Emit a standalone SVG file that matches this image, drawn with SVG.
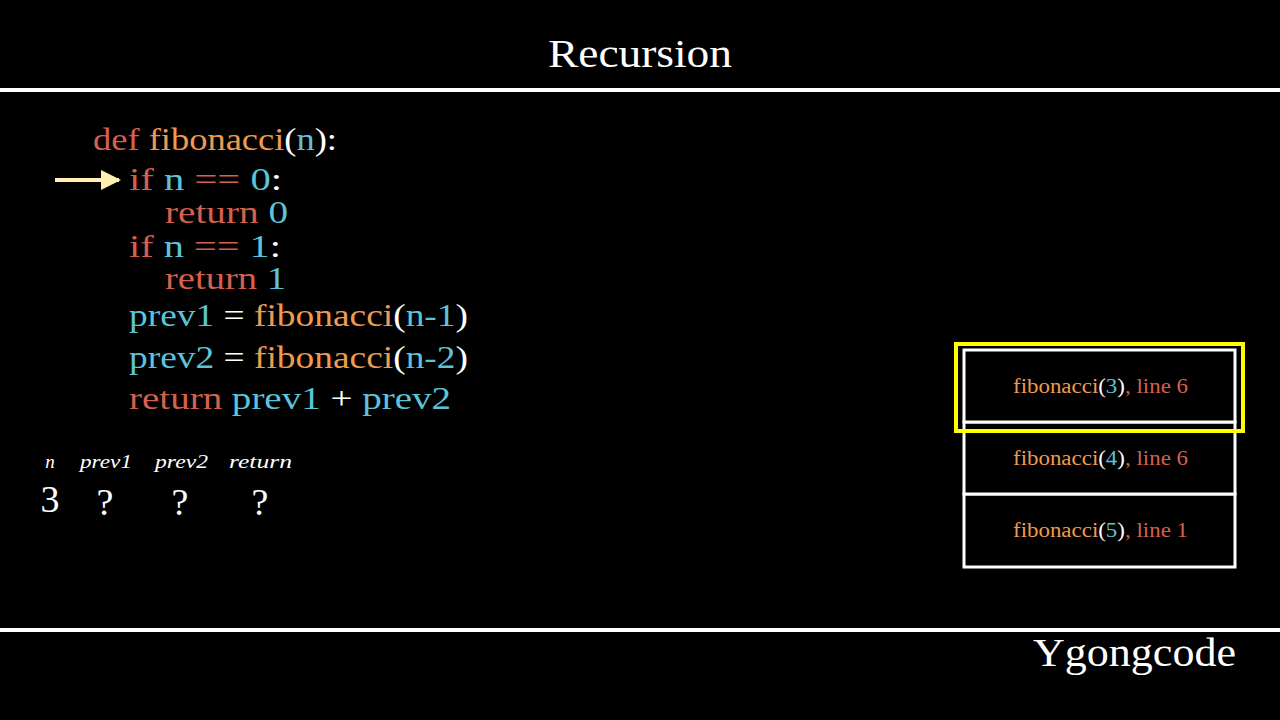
<svg xmlns="http://www.w3.org/2000/svg" width="1280" height="720" viewBox="0 0 1280 720">
<style>
text{font-family:"Liberation Serif","DejaVu Serif",serif;fill:#fff}
.c{font-size:32px}
.r{fill:#D4604E}.o{fill:#EE9A50}.b{fill:#5CC3D9}.w{fill:#fff}
.s{font-size:20px}
.box{fill:#000;stroke:#fff;stroke-width:3}
.it{font-style:italic;font-size:19px}
</style>
<defs><marker id="ah" viewBox="0 0 10 10" refX="9" refY="5" markerWidth="5" markerHeight="5" orient="auto"><path d="M0,0 L10,5 L0,10 z" fill="#FFF0B0"/></marker></defs>
<rect width="1280" height="720" fill="#000"/>
<text x="548" y="67" font-size="40" textLength="184" lengthAdjust="spacingAndGlyphs">Recursion</text>
<line x1="0" y1="90" x2="1280" y2="90" stroke="#fff" stroke-width="4"/>
<line x1="0" y1="630" x2="1280" y2="630" stroke="#fff" stroke-width="4"/>
<text x="1033" y="666" font-size="40" textLength="203" lengthAdjust="spacingAndGlyphs">Ygongcode</text>
<g id="code" class="c">
<text x="93" y="150" textLength="244" lengthAdjust="spacingAndGlyphs"><tspan class="r">def </tspan><tspan class="o">fibonacci</tspan><tspan class="w">(</tspan><tspan class="b">n</tspan><tspan class="w">):</tspan></text>
<text x="129" y="190" textLength="153" lengthAdjust="spacingAndGlyphs"><tspan class="r">if </tspan><tspan class="b">n </tspan><tspan class="r">== </tspan><tspan class="b">0</tspan><tspan class="w">:</tspan></text>
<text x="165" y="223" textLength="123" lengthAdjust="spacingAndGlyphs"><tspan class="r">return </tspan><tspan class="b">0</tspan></text>
<text x="129" y="257" textLength="152" lengthAdjust="spacingAndGlyphs"><tspan class="r">if </tspan><tspan class="b">n </tspan><tspan class="r">== </tspan><tspan class="b">1</tspan><tspan class="w">:</tspan></text>
<text x="165" y="289" textLength="121" lengthAdjust="spacingAndGlyphs"><tspan class="r">return </tspan><tspan class="b">1</tspan></text>
<text x="129" y="326" textLength="339" lengthAdjust="spacingAndGlyphs"><tspan class="b">prev1 </tspan><tspan class="w">= </tspan><tspan class="o">fibonacci</tspan><tspan class="w">(</tspan><tspan class="b">n-1</tspan><tspan class="w">)</tspan></text>
<text x="129" y="368" textLength="339" lengthAdjust="spacingAndGlyphs"><tspan class="b">prev2 </tspan><tspan class="w">= </tspan><tspan class="o">fibonacci</tspan><tspan class="w">(</tspan><tspan class="b">n-2</tspan><tspan class="w">)</tspan></text>
<text x="129" y="409" textLength="322" lengthAdjust="spacingAndGlyphs"><tspan class="r">return </tspan><tspan class="b">prev1 </tspan><tspan class="w">+ </tspan><tspan class="b">prev2</tspan></text>
</g>
<g id="connectors"><line x1="55" y1="180" x2="119" y2="180" stroke="#FFF0B0" stroke-width="4" marker-end="url(#ah)"/></g>
<g id="vars">
<text class="it" x="50" y="468" text-anchor="middle">n</text>
<text class="it" x="80" y="468" textLength="52" lengthAdjust="spacingAndGlyphs">prev1</text>
<text class="it" x="155" y="468" textLength="53" lengthAdjust="spacingAndGlyphs">prev2</text>
<text class="it" x="229" y="468" textLength="63" lengthAdjust="spacingAndGlyphs">return</text>
<text x="50" y="512" font-size="38" text-anchor="middle">3</text>
<text x="105" y="515" font-size="38" text-anchor="middle">?</text>
<text x="180" y="515" font-size="38" text-anchor="middle">?</text>
<text x="260" y="515" font-size="38" text-anchor="middle">?</text>
</g>
<g id="f5"><rect class="box" x="964" y="494" width="271" height="73"/><text class="s" x="1013" y="537" textLength="175" lengthAdjust="spacingAndGlyphs"><tspan class="o">fibonacci</tspan><tspan class="w">(</tspan><tspan class="b">5</tspan><tspan class="w">)</tspan><tspan class="r">, line 1</tspan></text></g>
<g id="f4"><rect class="box" x="964" y="422" width="271" height="72"/><text class="s" x="1013" y="465" textLength="175" lengthAdjust="spacingAndGlyphs"><tspan class="o">fibonacci</tspan><tspan class="w">(</tspan><tspan class="b">4</tspan><tspan class="w">)</tspan><tspan class="r">, line 6</tspan></text></g>
<g id="f3"><rect class="box" x="964" y="350" width="271" height="72"/><text class="s" x="1013" y="393" textLength="175" lengthAdjust="spacingAndGlyphs"><tspan class="o">fibonacci</tspan><tspan class="w">(</tspan><tspan class="b">3</tspan><tspan class="w">)</tspan><tspan class="r">, line 6</tspan></text></g>
<g id="highlight"><rect x="956" y="344" width="287" height="87" fill="none" stroke="#FFFF00" stroke-width="4"/></g>
</svg>
